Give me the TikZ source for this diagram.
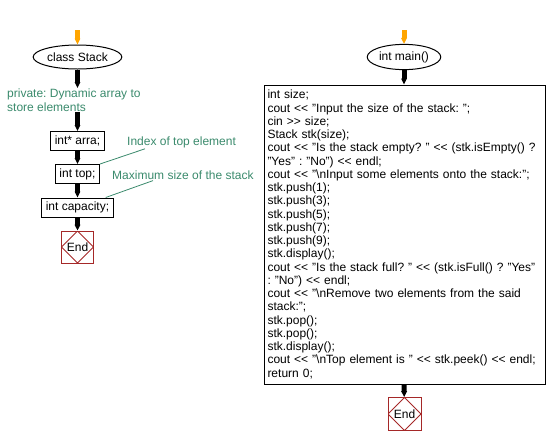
\documentclass[tikz,border=0pt]{standalone}
\usepackage{fontspec}
\setmainfont{Liberation Sans}
\usetikzlibrary{arrows.meta}
\usetikzlibrary{shapes.geometric}
\usetikzlibrary{positioning}
\definecolor{notegreen}{RGB}{58,138,108}
\definecolor{endred}{RGB}{165,40,40}
\definecolor{startorange}{RGB}{255,165,0}
\newcommand{\shl}{<{}<}
\newcommand{\shr}{>{}>}
\newcommand{\bsl}{\textbackslash}
\frenchspacing

\begin{document}
\begin{tikzpicture}[
				x=1pt, y=-1pt,
				font=\fontsize{12}{13.25}\selectfont,
				arrow/.style={line width=5pt, -{Triangle[length=6pt, width=5.5pt]}},
				startarrow/.style={arrow, startorange},
				terminal/.style={draw, line width=1pt, ellipse, minimum height=24pt, inner xsep=1pt},
				block/.style={draw, line width=1pt, minimum height=19pt, inner xsep=4pt, inner ysep=0pt},
				note/.style={text=notegreen, align=left, inner sep=1pt},
				noteline/.style={notegreen, line width=0.8pt},
				endbox/.style={draw=endred, line width=0.8pt, minimum width=32pt, minimum height=32pt, inner sep=0pt,
					path picture={\draw[endred, line width=0.8pt] (path picture bounding box.north) -- (path picture bounding box.east)
						-- (path picture bounding box.south) -- (path picture bounding box.west) -- cycle;}},
			]
				\useasboundingbox (0,0) rectangle (546,445);

				% class Stack
				\coordinate (startleft) at (77.5,30);
				\node[terminal, minimum width=79pt] (classstack) at (77.5,57) {class Stack};
				\node[note, anchor=north west] (privnote) at (6,88) {private: Dynamic array to\\store elements};
				\node[block] (arra) at (77.5,141) {int* arra;};
				\node[block] (top) at (77.5,174) {int top;};
				\node[block] (capacity) at (77.5,207.5) {int capacity;};
				\node[endbox] (endleft) at (77.5,247) {End};

				\node[note, anchor=west] (idxnote) at (126,142) {Index of top element};
				\node[note, anchor=west] (capnote) at (111,175) {Maximum size of the stack};

				\draw[startarrow] (startleft) -- (classstack);
				\draw[arrow] (classstack) -- (classstack.south |- privnote.north);
				\draw[arrow] (classstack.south |- privnote.south) -- (arra);
				\draw[arrow] (arra) -- (top);
				\draw[arrow] (top) -- (capacity);
				\draw[arrow] (capacity) -- (endleft);

				\draw[noteline] (top.north east) -- (idxnote.south west -| 145,0);
				\draw[noteline] ([xshift=-8pt]capacity.north east) -- (capnote.south west -| 153,0);

				% int main()
				\coordinate (startright) at (404,30);
				\node[terminal, minimum width=68pt] (mainfn) at (404,57) {int main()};
				\node[draw, line width=1pt, minimum width=281pt, minimum height=299pt, text width=274pt,
					inner xsep=3pt, align=left] (body) at (404.5,234.5) {int size;\\
cout \shl{} "Input the size of the stack: ";\\
cin \shr{} size;\\
Stack stk(size);\\
cout \shl{} "Is the stack empty? " \shl{} (stk.isEmpty() ?\\
"Yes" : "No") \shl{} endl;\\
cout \shl{} "\bsl{}nInput some elements onto the stack:";\\
stk.push(1);\\
stk.push(3);\\
stk.push(5);\\
stk.push(7);\\
stk.push(9);\\
stk.display();\\
cout \shl{} "Is the stack full? " \shl{} (stk.isFull() ? "Yes"\\
: "No") \shl{} endl;\\
cout \shl{} "\bsl{}nRemove two elements from the said\\
stack:";\\
stk.pop();\\
stk.pop();\\
stk.display();\\
cout \shl{} "\bsl{}nTop element is " \shl{} stk.peek() \shl{} endl;\\
return 0;};
				\node[endbox, minimum width=33pt, minimum height=33pt] (endright) at (404.5,414) {End};

				\draw[startarrow] (startright) -- (mainfn);
				\draw[arrow] (mainfn) -- (mainfn.south |- body.north);
				\draw[arrow] (mainfn.south |- body.south) -- (endright);
			\end{tikzpicture}
\end{document}
